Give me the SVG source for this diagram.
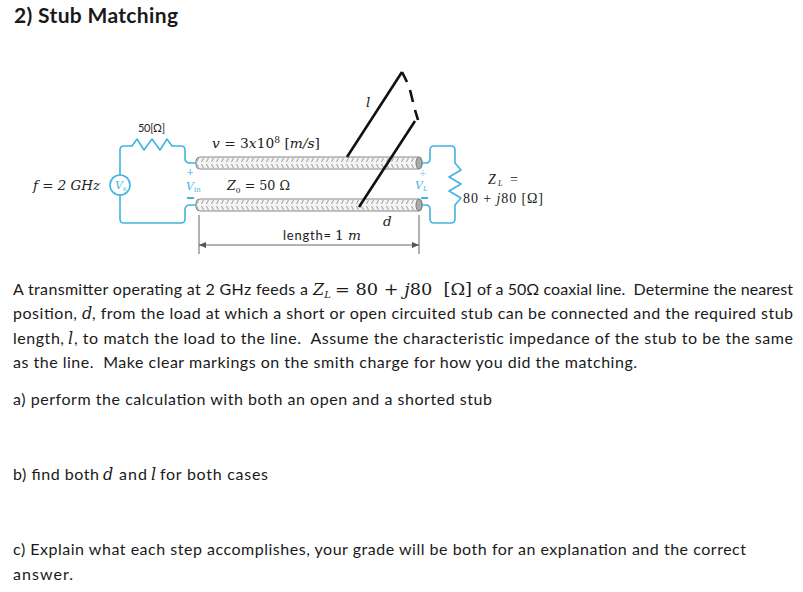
<svg xmlns="http://www.w3.org/2000/svg" width="803" height="592" viewBox="0 0 803 592">
<style>
.t{font-family:"Lato","Noto Sans",sans-serif;font-size:16px;fill:#1a1a1a}
.m{font-family:"DejaVu Serif","Liberation Serif",serif;font-size:16px;fill:#1a1a1a}
.i{font-style:italic}
.d{font-family:"DejaVu Serif","Liberation Serif",serif;font-size:13.5px;fill:#222}
.z{font-family:"Liberation Serif",serif;font-size:14px;fill:#222}
.s{font-family:"Lato","Noto Sans",sans-serif;font-size:12px;fill:#222}
.w{fill:none;stroke:#3fb4e2;stroke-width:1.6;stroke-linejoin:round}
.k{fill:none;stroke:#111;stroke-width:2.6}
.g{stroke:#666;stroke-width:1;fill:none}
.b{fill:#3fb4e2;font-family:"DejaVu Serif",serif}
</style>
<defs>
<pattern id="coil" width="5" height="12" patternUnits="userSpaceOnUse" y="157">
<rect width="5" height="12" fill="#f4f4f4"/>
<path d="M3.5 1L1.5 5M1.5 7L3.5 11" stroke="#999" stroke-width="1" fill="none"/>
</pattern>
<pattern id="coil2" width="5" height="12" patternUnits="userSpaceOnUse" y="199">
<rect width="5" height="12" fill="#f4f4f4"/>
<path d="M3.5 1L1.5 5M1.5 7L3.5 11" stroke="#999" stroke-width="1" fill="none"/>
</pattern>
<marker id="arr" markerWidth="7" markerHeight="6" refX="7" refY="3" orient="auto-start-reverse"><path d="M0 0L7 3L0 6Z" fill="#555"/></marker>
</defs>

<text class="t" x="14" y="23" font-weight="700" style="font-size:21px" textLength="164" lengthAdjust="spacing">2) Stub Matching</text>

<g id="source">
<path class="w" d="M120 175V150Q120 146 124 146H132L137 139L144 150L152 139L160 150L167 139L172 146H181Q185 146 185 150V158Q185 163 190 163H197"/>
<path class="w" d="M120 195V219Q120 223 124 223H181Q185 223 185 219V210Q185 205 190 205H197"/>
<circle class="w" cx="120" cy="185" r="10"/>
<text class="b i" x="115" y="189" font-size="11">V<tspan font-size="7" dy="2">s</tspan></text>
<text class="s" x="138" y="132" style="font-size:11px" textLength="27" lengthAdjust="spacing">50[Ω]</text>
<text class="d i" x="33" y="190" textLength="67" lengthAdjust="spacingAndGlyphs">f = 2 GHz</text>
<text class="b" x="186" y="175" font-size="10">+</text>
<text class="b i" x="186" y="190" font-size="11">V<tspan font-size="7" dy="2" font-style="normal">in</tspan></text>
<rect x="187" y="197" width="7" height="2" fill="#3fb4e2"/>
</g>

<g id="line">
<rect x="196" y="157" width="226" height="12" rx="4" fill="url(#coil)" stroke="#888"/>
<rect x="196" y="199" width="226" height="12" rx="4" fill="url(#coil2)" stroke="#888"/>
<ellipse cx="419" cy="163" rx="3" ry="6" fill="#aaa" stroke="#777"/>
<ellipse cx="419" cy="205" rx="3" ry="6" fill="#aaa" stroke="#777"/>
<text class="d" x="212" y="148" textLength="108" lengthAdjust="spacingAndGlyphs"><tspan font-style="italic">v</tspan> = 3<tspan font-style="italic">x</tspan>10<tspan font-size="9" dy="-5">8</tspan><tspan dy="5"> [</tspan><tspan font-style="italic">m/s</tspan>]</text>
<text class="d" x="227" y="190" textLength="63" lengthAdjust="spacingAndGlyphs"><tspan font-style="italic">Z</tspan><tspan font-size="8" dy="3">0</tspan><tspan dy="-3"> = 50 Ω</tspan></text>
</g>

<g id="stub">
<path class="k" d="M347 157L402 72"/>
<path class="k" d="M402 72L407 82M410 90L413 102M415 110L418 120"/>
<path class="k" d="M415 121L359 207"/>
<text class="d i" x="366" y="107">l</text>
<text class="d i" x="383" y="226">d</text>
</g>

<g id="load">
<path class="w" d="M422 163H426Q430 163 430 158V150Q430 146 434 146H451Q455 146 455 150V163L461 170L449 177L461 184L449 191L461 198L455 205V219Q455 223 451 223H434Q430 223 430 219V210Q430 205 426 205H422"/>
<text class="b" x="419" y="176" font-size="9" opacity=".6">+</text>
<text class="b i" x="415" y="189" font-size="11">V<tspan font-size="7" dy="2">L</tspan></text>
<rect x="421" y="197" width="7" height="2" fill="#3fb4e2"/>
<text class="z" x="488" y="184" textLength="30" lengthAdjust="spacing"><tspan font-style="italic">Z</tspan><tspan font-size="8" dy="1.5" font-style="italic">L</tspan><tspan dy="-1.5"> =</tspan></text>
<text class="z" x="463" y="203" textLength="80" lengthAdjust="spacing">80 + <tspan font-style="italic">j</tspan>80 [Ω]</text>
</g>

<g id="connectors">
<path class="g" d="M199 215V254M419 215V254"/>
<path class="g" d="M199 245H419" marker-start="url(#arr)" marker-end="url(#arr)"/>
</g>
<text class="s" x="283" y="240" style="font-size:13px" textLength="48" lengthAdjust="spacing">length=</text>
<text class="d" x="335" y="240" textLength="26" lengthAdjust="spacingAndGlyphs">1 <tspan font-style="italic">m</tspan></text>

<text class="t" x="13" y="295" textLength="295" lengthAdjust="spacing">A transmitter operating at 2 GHz feeds a</text>
<text class="m i" x="313" y="295">Z<tspan font-size="10" dy="3">L</tspan></text>
<text class="m" x="335" y="295" textLength="137" lengthAdjust="spacingAndGlyphs" xml:space="preserve">= 80 + <tspan font-style="italic">j</tspan>80  [Ω]</text>
<text class="t" x="477" y="295" textLength="316" lengthAdjust="spacing" xml:space="preserve">of a 50Ω coaxial line.  Determine the nearest</text>

<text class="t" x="13" y="319" textLength="64" lengthAdjust="spacing">position,</text>
<text class="m i" x="82" y="319">d</text>
<text class="t" x="92" y="319" textLength="701" lengthAdjust="spacing">, from the load at which a short or open circuited stub can be connected and the required stub</text>

<text class="t" x="13" y="344" textLength="51" lengthAdjust="spacing">length,</text>
<text class="m i" x="68" y="344">l</text>
<text class="t" x="74" y="344" textLength="719" lengthAdjust="spacing" xml:space="preserve">, to match the load to the line.  Assume the characteristic impedance of the stub to be the same</text>

<text class="t" x="13" y="368" textLength="624" lengthAdjust="spacing" xml:space="preserve">as the line.  Make clear markings on the smith charge for how you did the matching.</text>

<text class="t" x="13" y="405" textLength="479" lengthAdjust="spacing">a) perform the calculation with both an open and a shorted stub</text>

<text class="t" x="13" y="480" textLength="86" lengthAdjust="spacing">b) find both</text>
<text class="m i" x="103" y="480">d</text>
<text class="t" x="119" y="480" textLength="28" lengthAdjust="spacing">and</text>
<text class="m i" x="151" y="480">l</text>
<text class="t" x="160" y="480" textLength="108" lengthAdjust="spacing">for both cases</text>

<text class="t" x="13" y="555" textLength="733" lengthAdjust="spacing">c) Explain what each step accomplishes, your grade will be both for an explanation and the correct</text>
<text class="t" x="13" y="580" textLength="60" lengthAdjust="spacing">answer.</text>
</svg>
